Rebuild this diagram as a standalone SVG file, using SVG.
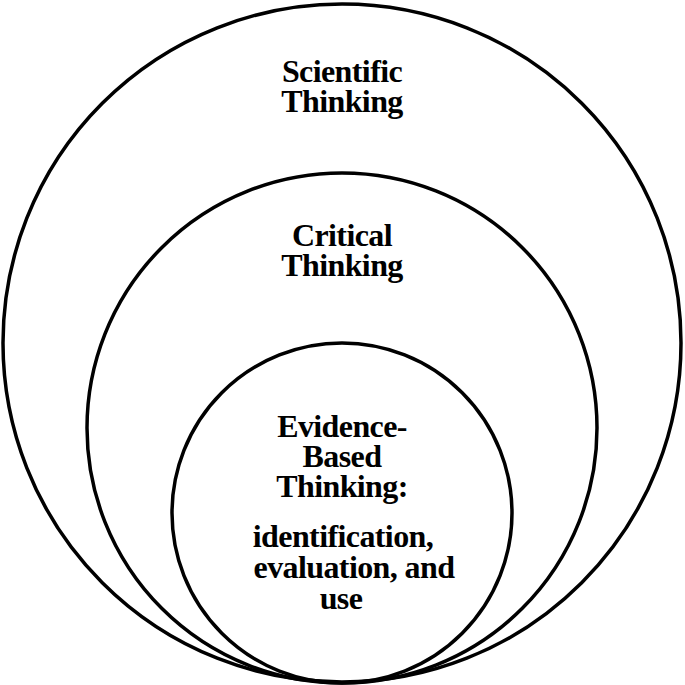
<svg xmlns="http://www.w3.org/2000/svg" width="685" height="685" viewBox="0 0 685 685">
<style>
.c{fill:none;stroke:#000;stroke-width:3.5}
.t{font-family:"Liberation Serif","Times New Roman",serif;font-weight:bold;font-size:32px;letter-spacing:-0.6px;fill:#000;text-anchor:middle}
</style>
<rect width="685" height="685" fill="#fff"/>
<g id="scientific">
<circle class="c" cx="342" cy="343" r="339"/>
<text class="t"><tspan x="342" y="82">Scientific</tspan><tspan x="342" y="112">Thinking</tspan></text>
</g>
<g id="critical">
<circle class="c" cx="342" cy="428" r="255"/>
<text class="t"><tspan x="342" y="246">Critical</tspan><tspan x="342" y="276">Thinking</tspan></text>
</g>
<g id="evidence">
<circle class="c" cx="342" cy="513" r="170"/>
<text class="t"><tspan x="342" y="437">Evidence-</tspan><tspan x="342" y="467">Based</tspan><tspan x="342" y="497">Thinking:</tspan></text>
<text class="t"><tspan x="343" y="547">identification,</tspan><tspan x="354" y="578">evaluation, and</tspan><tspan x="341" y="609">use</tspan></text>
</g>
</svg>
